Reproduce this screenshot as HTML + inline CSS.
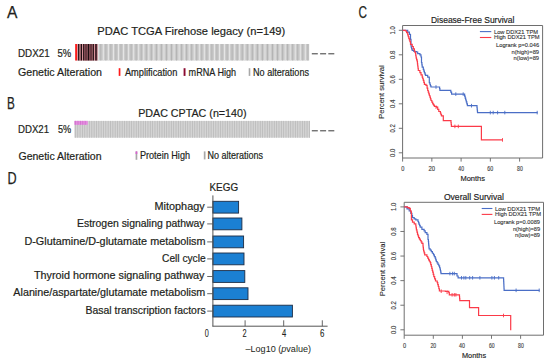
<!DOCTYPE html>
<html><head><meta charset="utf-8"><style>
html,body{margin:0;padding:0;background:#fff;overflow:hidden;}
svg{display:block;font-family:"Liberation Sans", sans-serif;}
</style></head><body>
<svg width="550" height="362" viewBox="0 0 550 362">
<rect width="550" height="362" fill="#fff"/>
<rect x="75.30" y="44.00" width="233.90" height="16.50" fill="#cacaca" />
<rect x="97.80" y="44.00" width="1.00" height="16.50" fill="#e6e6e6" />
<rect x="100.30" y="44.00" width="1.00" height="16.50" fill="#b4b4b4" />
<rect x="102.85" y="44.00" width="1.00" height="16.50" fill="#e6e6e6" />
<rect x="105.35" y="44.00" width="1.00" height="16.50" fill="#b4b4b4" />
<rect x="107.90" y="44.00" width="1.00" height="16.50" fill="#e6e6e6" />
<rect x="110.40" y="44.00" width="1.00" height="16.50" fill="#b4b4b4" />
<rect x="112.95" y="44.00" width="1.00" height="16.50" fill="#e6e6e6" />
<rect x="115.45" y="44.00" width="1.00" height="16.50" fill="#b4b4b4" />
<rect x="118.00" y="44.00" width="1.00" height="16.50" fill="#e6e6e6" />
<rect x="120.50" y="44.00" width="1.00" height="16.50" fill="#b4b4b4" />
<rect x="123.05" y="44.00" width="1.00" height="16.50" fill="#e6e6e6" />
<rect x="125.55" y="44.00" width="1.00" height="16.50" fill="#b4b4b4" />
<rect x="128.10" y="44.00" width="1.00" height="16.50" fill="#e6e6e6" />
<rect x="130.60" y="44.00" width="1.00" height="16.50" fill="#b4b4b4" />
<rect x="133.15" y="44.00" width="1.00" height="16.50" fill="#e6e6e6" />
<rect x="135.65" y="44.00" width="1.00" height="16.50" fill="#b4b4b4" />
<rect x="138.20" y="44.00" width="1.00" height="16.50" fill="#e6e6e6" />
<rect x="140.70" y="44.00" width="1.00" height="16.50" fill="#b4b4b4" />
<rect x="143.25" y="44.00" width="1.00" height="16.50" fill="#e6e6e6" />
<rect x="145.75" y="44.00" width="1.00" height="16.50" fill="#b4b4b4" />
<rect x="148.30" y="44.00" width="1.00" height="16.50" fill="#e6e6e6" />
<rect x="150.80" y="44.00" width="1.00" height="16.50" fill="#b4b4b4" />
<rect x="153.35" y="44.00" width="1.00" height="16.50" fill="#e6e6e6" />
<rect x="155.85" y="44.00" width="1.00" height="16.50" fill="#b4b4b4" />
<rect x="158.40" y="44.00" width="1.00" height="16.50" fill="#e6e6e6" />
<rect x="160.90" y="44.00" width="1.00" height="16.50" fill="#b4b4b4" />
<rect x="163.45" y="44.00" width="1.00" height="16.50" fill="#e6e6e6" />
<rect x="165.95" y="44.00" width="1.00" height="16.50" fill="#b4b4b4" />
<rect x="168.50" y="44.00" width="1.00" height="16.50" fill="#e6e6e6" />
<rect x="171.00" y="44.00" width="1.00" height="16.50" fill="#b4b4b4" />
<rect x="173.55" y="44.00" width="1.00" height="16.50" fill="#e6e6e6" />
<rect x="176.05" y="44.00" width="1.00" height="16.50" fill="#b4b4b4" />
<rect x="178.60" y="44.00" width="1.00" height="16.50" fill="#e6e6e6" />
<rect x="181.10" y="44.00" width="1.00" height="16.50" fill="#b4b4b4" />
<rect x="183.65" y="44.00" width="1.00" height="16.50" fill="#e6e6e6" />
<rect x="186.15" y="44.00" width="1.00" height="16.50" fill="#b4b4b4" />
<rect x="188.70" y="44.00" width="1.00" height="16.50" fill="#e6e6e6" />
<rect x="191.20" y="44.00" width="1.00" height="16.50" fill="#b4b4b4" />
<rect x="193.75" y="44.00" width="1.00" height="16.50" fill="#e6e6e6" />
<rect x="196.25" y="44.00" width="1.00" height="16.50" fill="#b4b4b4" />
<rect x="198.80" y="44.00" width="1.00" height="16.50" fill="#e6e6e6" />
<rect x="201.30" y="44.00" width="1.00" height="16.50" fill="#b4b4b4" />
<rect x="203.85" y="44.00" width="1.00" height="16.50" fill="#e6e6e6" />
<rect x="206.35" y="44.00" width="1.00" height="16.50" fill="#b4b4b4" />
<rect x="208.90" y="44.00" width="1.00" height="16.50" fill="#e6e6e6" />
<rect x="211.40" y="44.00" width="1.00" height="16.50" fill="#b4b4b4" />
<rect x="213.95" y="44.00" width="1.00" height="16.50" fill="#e6e6e6" />
<rect x="216.45" y="44.00" width="1.00" height="16.50" fill="#b4b4b4" />
<rect x="219.00" y="44.00" width="1.00" height="16.50" fill="#e6e6e6" />
<rect x="221.50" y="44.00" width="1.00" height="16.50" fill="#b4b4b4" />
<rect x="224.05" y="44.00" width="1.00" height="16.50" fill="#e6e6e6" />
<rect x="226.55" y="44.00" width="1.00" height="16.50" fill="#b4b4b4" />
<rect x="229.10" y="44.00" width="1.00" height="16.50" fill="#e6e6e6" />
<rect x="231.60" y="44.00" width="1.00" height="16.50" fill="#b4b4b4" />
<rect x="234.15" y="44.00" width="1.00" height="16.50" fill="#e6e6e6" />
<rect x="236.65" y="44.00" width="1.00" height="16.50" fill="#b4b4b4" />
<rect x="239.20" y="44.00" width="1.00" height="16.50" fill="#e6e6e6" />
<rect x="241.70" y="44.00" width="1.00" height="16.50" fill="#b4b4b4" />
<rect x="244.25" y="44.00" width="1.00" height="16.50" fill="#e6e6e6" />
<rect x="246.75" y="44.00" width="1.00" height="16.50" fill="#b4b4b4" />
<rect x="249.30" y="44.00" width="1.00" height="16.50" fill="#e6e6e6" />
<rect x="251.80" y="44.00" width="1.00" height="16.50" fill="#b4b4b4" />
<rect x="254.35" y="44.00" width="1.00" height="16.50" fill="#e6e6e6" />
<rect x="256.85" y="44.00" width="1.00" height="16.50" fill="#b4b4b4" />
<rect x="259.40" y="44.00" width="1.00" height="16.50" fill="#e6e6e6" />
<rect x="261.90" y="44.00" width="1.00" height="16.50" fill="#b4b4b4" />
<rect x="264.45" y="44.00" width="1.00" height="16.50" fill="#e6e6e6" />
<rect x="266.95" y="44.00" width="1.00" height="16.50" fill="#b4b4b4" />
<rect x="269.50" y="44.00" width="1.00" height="16.50" fill="#e6e6e6" />
<rect x="272.00" y="44.00" width="1.00" height="16.50" fill="#b4b4b4" />
<rect x="274.55" y="44.00" width="1.00" height="16.50" fill="#e6e6e6" />
<rect x="277.05" y="44.00" width="1.00" height="16.50" fill="#b4b4b4" />
<rect x="279.60" y="44.00" width="1.00" height="16.50" fill="#e6e6e6" />
<rect x="282.10" y="44.00" width="1.00" height="16.50" fill="#b4b4b4" />
<rect x="284.65" y="44.00" width="1.00" height="16.50" fill="#e6e6e6" />
<rect x="287.15" y="44.00" width="1.00" height="16.50" fill="#b4b4b4" />
<rect x="289.70" y="44.00" width="1.00" height="16.50" fill="#e6e6e6" />
<rect x="292.20" y="44.00" width="1.00" height="16.50" fill="#b4b4b4" />
<rect x="294.75" y="44.00" width="1.00" height="16.50" fill="#e6e6e6" />
<rect x="297.25" y="44.00" width="1.00" height="16.50" fill="#b4b4b4" />
<rect x="299.80" y="44.00" width="1.00" height="16.50" fill="#e6e6e6" />
<rect x="302.30" y="44.00" width="1.00" height="16.50" fill="#b4b4b4" />
<rect x="304.85" y="44.00" width="1.00" height="16.50" fill="#e6e6e6" />
<rect x="307.35" y="44.00" width="1.00" height="16.50" fill="#b4b4b4" />
<rect x="75.20" y="44.00" width="1.90" height="16.50" fill="#ff1a1a" />
<rect x="77.10" y="44.00" width="20.60" height="16.50" fill="#d9939b" />
<rect x="78.10" y="44.00" width="1.00" height="16.50" fill="#1c0d10" />
<rect x="79.30" y="44.00" width="1.50" height="16.50" fill="#8a5a62" />
<rect x="81.00" y="44.00" width="1.00" height="16.50" fill="#1c0d10" />
<rect x="83.00" y="44.00" width="0.90" height="16.50" fill="#1c0d10" />
<rect x="84.20" y="44.00" width="3.50" height="16.50" fill="#6a3a42" />
<rect x="87.90" y="44.00" width="1.10" height="16.50" fill="#1c0d10" />
<rect x="89.20" y="44.00" width="3.40" height="16.50" fill="#6a3a42" />
<rect x="92.90" y="44.00" width="1.00" height="16.50" fill="#1c0d10" />
<rect x="95.00" y="44.00" width="2.10" height="16.50" fill="#4e2a32" />
<rect x="311.80" y="53.10" width="6.00" height="1.30" fill="#666666" />
<rect x="320.10" y="53.10" width="6.00" height="1.30" fill="#666666" />
<rect x="328.30" y="53.10" width="6.00" height="1.30" fill="#666666" />
<rect x="118.70" y="68.20" width="1.70" height="7.70" fill="#ff1a1a" />
<rect x="183.60" y="68.20" width="1.90" height="7.70" fill="#8b0a30" />
<rect x="248.70" y="68.20" width="1.60" height="7.70" fill="#a8a8a8" />
<rect x="74.30" y="120.90" width="235.70" height="16.80" fill="#d4d4d4" />
<rect x="75.00" y="120.90" width="0.80" height="16.80" fill="#b9b9b9" />
<rect x="77.34" y="120.90" width="0.80" height="16.80" fill="#b9b9b9" />
<rect x="79.68" y="120.90" width="0.80" height="16.80" fill="#b9b9b9" />
<rect x="82.02" y="120.90" width="0.80" height="16.80" fill="#b9b9b9" />
<rect x="84.36" y="120.90" width="0.80" height="16.80" fill="#b9b9b9" />
<rect x="86.70" y="120.90" width="0.80" height="16.80" fill="#b9b9b9" />
<rect x="89.04" y="120.90" width="0.80" height="16.80" fill="#b9b9b9" />
<rect x="91.38" y="120.90" width="0.80" height="16.80" fill="#b9b9b9" />
<rect x="93.72" y="120.90" width="0.80" height="16.80" fill="#b9b9b9" />
<rect x="96.06" y="120.90" width="0.80" height="16.80" fill="#b9b9b9" />
<rect x="98.40" y="120.90" width="0.80" height="16.80" fill="#b9b9b9" />
<rect x="100.74" y="120.90" width="0.80" height="16.80" fill="#b9b9b9" />
<rect x="103.08" y="120.90" width="0.80" height="16.80" fill="#b9b9b9" />
<rect x="105.42" y="120.90" width="0.80" height="16.80" fill="#b9b9b9" />
<rect x="107.76" y="120.90" width="0.80" height="16.80" fill="#b9b9b9" />
<rect x="110.10" y="120.90" width="0.80" height="16.80" fill="#b9b9b9" />
<rect x="112.44" y="120.90" width="0.80" height="16.80" fill="#b9b9b9" />
<rect x="114.78" y="120.90" width="0.80" height="16.80" fill="#b9b9b9" />
<rect x="117.12" y="120.90" width="0.80" height="16.80" fill="#b9b9b9" />
<rect x="119.46" y="120.90" width="0.80" height="16.80" fill="#b9b9b9" />
<rect x="121.80" y="120.90" width="0.80" height="16.80" fill="#b9b9b9" />
<rect x="124.14" y="120.90" width="0.80" height="16.80" fill="#b9b9b9" />
<rect x="126.48" y="120.90" width="0.80" height="16.80" fill="#b9b9b9" />
<rect x="128.82" y="120.90" width="0.80" height="16.80" fill="#b9b9b9" />
<rect x="131.16" y="120.90" width="0.80" height="16.80" fill="#b9b9b9" />
<rect x="133.50" y="120.90" width="0.80" height="16.80" fill="#b9b9b9" />
<rect x="135.84" y="120.90" width="0.80" height="16.80" fill="#b9b9b9" />
<rect x="138.18" y="120.90" width="0.80" height="16.80" fill="#b9b9b9" />
<rect x="140.52" y="120.90" width="0.80" height="16.80" fill="#b9b9b9" />
<rect x="142.86" y="120.90" width="0.80" height="16.80" fill="#b9b9b9" />
<rect x="145.20" y="120.90" width="0.80" height="16.80" fill="#b9b9b9" />
<rect x="147.54" y="120.90" width="0.80" height="16.80" fill="#b9b9b9" />
<rect x="149.88" y="120.90" width="0.80" height="16.80" fill="#b9b9b9" />
<rect x="152.22" y="120.90" width="0.80" height="16.80" fill="#b9b9b9" />
<rect x="154.56" y="120.90" width="0.80" height="16.80" fill="#b9b9b9" />
<rect x="156.90" y="120.90" width="0.80" height="16.80" fill="#b9b9b9" />
<rect x="159.24" y="120.90" width="0.80" height="16.80" fill="#b9b9b9" />
<rect x="161.58" y="120.90" width="0.80" height="16.80" fill="#b9b9b9" />
<rect x="163.92" y="120.90" width="0.80" height="16.80" fill="#b9b9b9" />
<rect x="166.26" y="120.90" width="0.80" height="16.80" fill="#b9b9b9" />
<rect x="168.60" y="120.90" width="0.80" height="16.80" fill="#b9b9b9" />
<rect x="170.94" y="120.90" width="0.80" height="16.80" fill="#b9b9b9" />
<rect x="173.28" y="120.90" width="0.80" height="16.80" fill="#b9b9b9" />
<rect x="175.62" y="120.90" width="0.80" height="16.80" fill="#b9b9b9" />
<rect x="177.96" y="120.90" width="0.80" height="16.80" fill="#b9b9b9" />
<rect x="180.30" y="120.90" width="0.80" height="16.80" fill="#b9b9b9" />
<rect x="182.64" y="120.90" width="0.80" height="16.80" fill="#b9b9b9" />
<rect x="184.98" y="120.90" width="0.80" height="16.80" fill="#b9b9b9" />
<rect x="187.32" y="120.90" width="0.80" height="16.80" fill="#b9b9b9" />
<rect x="189.66" y="120.90" width="0.80" height="16.80" fill="#b9b9b9" />
<rect x="192.00" y="120.90" width="0.80" height="16.80" fill="#b9b9b9" />
<rect x="194.34" y="120.90" width="0.80" height="16.80" fill="#b9b9b9" />
<rect x="196.68" y="120.90" width="0.80" height="16.80" fill="#b9b9b9" />
<rect x="199.02" y="120.90" width="0.80" height="16.80" fill="#b9b9b9" />
<rect x="201.36" y="120.90" width="0.80" height="16.80" fill="#b9b9b9" />
<rect x="203.70" y="120.90" width="0.80" height="16.80" fill="#b9b9b9" />
<rect x="206.04" y="120.90" width="0.80" height="16.80" fill="#b9b9b9" />
<rect x="208.38" y="120.90" width="0.80" height="16.80" fill="#b9b9b9" />
<rect x="210.72" y="120.90" width="0.80" height="16.80" fill="#b9b9b9" />
<rect x="213.06" y="120.90" width="0.80" height="16.80" fill="#b9b9b9" />
<rect x="215.40" y="120.90" width="0.80" height="16.80" fill="#b9b9b9" />
<rect x="217.74" y="120.90" width="0.80" height="16.80" fill="#b9b9b9" />
<rect x="220.08" y="120.90" width="0.80" height="16.80" fill="#b9b9b9" />
<rect x="222.42" y="120.90" width="0.80" height="16.80" fill="#b9b9b9" />
<rect x="224.76" y="120.90" width="0.80" height="16.80" fill="#b9b9b9" />
<rect x="227.10" y="120.90" width="0.80" height="16.80" fill="#b9b9b9" />
<rect x="229.44" y="120.90" width="0.80" height="16.80" fill="#b9b9b9" />
<rect x="231.78" y="120.90" width="0.80" height="16.80" fill="#b9b9b9" />
<rect x="234.12" y="120.90" width="0.80" height="16.80" fill="#b9b9b9" />
<rect x="236.46" y="120.90" width="0.80" height="16.80" fill="#b9b9b9" />
<rect x="238.80" y="120.90" width="0.80" height="16.80" fill="#b9b9b9" />
<rect x="241.14" y="120.90" width="0.80" height="16.80" fill="#b9b9b9" />
<rect x="243.48" y="120.90" width="0.80" height="16.80" fill="#b9b9b9" />
<rect x="245.82" y="120.90" width="0.80" height="16.80" fill="#b9b9b9" />
<rect x="248.16" y="120.90" width="0.80" height="16.80" fill="#b9b9b9" />
<rect x="250.50" y="120.90" width="0.80" height="16.80" fill="#b9b9b9" />
<rect x="252.84" y="120.90" width="0.80" height="16.80" fill="#b9b9b9" />
<rect x="255.18" y="120.90" width="0.80" height="16.80" fill="#b9b9b9" />
<rect x="257.52" y="120.90" width="0.80" height="16.80" fill="#b9b9b9" />
<rect x="259.86" y="120.90" width="0.80" height="16.80" fill="#b9b9b9" />
<rect x="262.20" y="120.90" width="0.80" height="16.80" fill="#b9b9b9" />
<rect x="264.54" y="120.90" width="0.80" height="16.80" fill="#b9b9b9" />
<rect x="266.88" y="120.90" width="0.80" height="16.80" fill="#b9b9b9" />
<rect x="269.22" y="120.90" width="0.80" height="16.80" fill="#b9b9b9" />
<rect x="271.56" y="120.90" width="0.80" height="16.80" fill="#b9b9b9" />
<rect x="273.90" y="120.90" width="0.80" height="16.80" fill="#b9b9b9" />
<rect x="276.24" y="120.90" width="0.80" height="16.80" fill="#b9b9b9" />
<rect x="278.58" y="120.90" width="0.80" height="16.80" fill="#b9b9b9" />
<rect x="280.92" y="120.90" width="0.80" height="16.80" fill="#b9b9b9" />
<rect x="283.26" y="120.90" width="0.80" height="16.80" fill="#b9b9b9" />
<rect x="285.60" y="120.90" width="0.80" height="16.80" fill="#b9b9b9" />
<rect x="287.94" y="120.90" width="0.80" height="16.80" fill="#b9b9b9" />
<rect x="290.28" y="120.90" width="0.80" height="16.80" fill="#b9b9b9" />
<rect x="292.62" y="120.90" width="0.80" height="16.80" fill="#b9b9b9" />
<rect x="294.96" y="120.90" width="0.80" height="16.80" fill="#b9b9b9" />
<rect x="297.30" y="120.90" width="0.80" height="16.80" fill="#b9b9b9" />
<rect x="299.64" y="120.90" width="0.80" height="16.80" fill="#b9b9b9" />
<rect x="301.98" y="120.90" width="0.80" height="16.80" fill="#b9b9b9" />
<rect x="304.32" y="120.90" width="0.80" height="16.80" fill="#b9b9b9" />
<rect x="306.66" y="120.90" width="0.80" height="16.80" fill="#b9b9b9" />
<rect x="309.00" y="120.90" width="0.80" height="16.80" fill="#b9b9b9" />
<rect x="74.30" y="120.90" width="13.50" height="3.90" fill="#e58ee0" />
<rect x="75.20" y="120.90" width="0.80" height="3.90" fill="#d070cc" />
<rect x="77.60" y="120.90" width="0.80" height="3.90" fill="#d070cc" />
<rect x="80.00" y="120.90" width="0.80" height="3.90" fill="#d070cc" />
<rect x="82.40" y="120.90" width="0.80" height="3.90" fill="#d070cc" />
<rect x="84.80" y="120.90" width="0.80" height="3.90" fill="#d070cc" />
<rect x="311.80" y="130.10" width="6.00" height="1.30" fill="#666666" />
<rect x="320.10" y="130.10" width="6.00" height="1.30" fill="#666666" />
<rect x="328.30" y="130.10" width="6.00" height="1.30" fill="#666666" />
<rect x="135.60" y="151.40" width="1.70" height="8.40" fill="#a8a8a8" />
<rect x="135.60" y="151.40" width="1.70" height="2.60" fill="#d860d0" />
<rect x="203.80" y="151.40" width="1.70" height="8.00" fill="#a8a8a8" />
<rect x="212.9" y="201.30" width="25.70" height="11.8" fill="#1b80d3" stroke="#1d2c44" stroke-width="0.9"/>
<line x1="207.20" y1="207.20" x2="212.90" y2="207.20" stroke="#555" stroke-width="0.9" />
<rect x="212.9" y="218.00" width="29.00" height="11.8" fill="#1b80d3" stroke="#1d2c44" stroke-width="0.9"/>
<line x1="207.20" y1="223.90" x2="212.90" y2="223.90" stroke="#555" stroke-width="0.9" />
<rect x="212.9" y="236.00" width="30.70" height="11.8" fill="#1b80d3" stroke="#1d2c44" stroke-width="0.9"/>
<line x1="207.20" y1="241.90" x2="212.90" y2="241.90" stroke="#555" stroke-width="0.9" />
<rect x="212.9" y="253.00" width="31.10" height="11.8" fill="#1b80d3" stroke="#1d2c44" stroke-width="0.9"/>
<line x1="207.20" y1="258.90" x2="212.90" y2="258.90" stroke="#555" stroke-width="0.9" />
<rect x="212.9" y="270.60" width="31.90" height="11.8" fill="#1b80d3" stroke="#1d2c44" stroke-width="0.9"/>
<line x1="207.20" y1="276.50" x2="212.90" y2="276.50" stroke="#555" stroke-width="0.9" />
<rect x="212.9" y="287.80" width="35.10" height="11.8" fill="#1b80d3" stroke="#1d2c44" stroke-width="0.9"/>
<line x1="207.20" y1="293.70" x2="212.90" y2="293.70" stroke="#555" stroke-width="0.9" />
<rect x="212.9" y="305.20" width="79.50" height="11.8" fill="#1b80d3" stroke="#1d2c44" stroke-width="0.9"/>
<line x1="207.20" y1="311.10" x2="212.90" y2="311.10" stroke="#555" stroke-width="0.9" />
<line x1="212.90" y1="195.40" x2="212.90" y2="326.40" stroke="#555" stroke-width="1.0" />
<line x1="212.40" y1="326.20" x2="327.60" y2="326.20" stroke="#555" stroke-width="1.0" />
<line x1="245.10" y1="320.30" x2="245.10" y2="326.20" stroke="#555" stroke-width="0.9" />
<line x1="283.70" y1="320.30" x2="283.70" y2="326.20" stroke="#555" stroke-width="0.9" />
<line x1="322.30" y1="320.30" x2="322.30" y2="326.20" stroke="#555" stroke-width="0.9" />
<path d="M402.60,158.00 V25.50 H542.60 V158.00 Z" fill="none" stroke="#6e6e6e" stroke-width="1"/>
<line x1="402.60" y1="158.00" x2="402.60" y2="161.60" stroke="#666" stroke-width="0.9" />
<line x1="431.85" y1="158.00" x2="431.85" y2="161.60" stroke="#666" stroke-width="0.9" />
<line x1="461.10" y1="158.00" x2="461.10" y2="161.60" stroke="#666" stroke-width="0.9" />
<line x1="490.35" y1="158.00" x2="490.35" y2="161.60" stroke="#666" stroke-width="0.9" />
<line x1="519.60" y1="158.00" x2="519.60" y2="161.60" stroke="#666" stroke-width="0.9" />
<line x1="398.80" y1="152.80" x2="402.60" y2="152.80" stroke="#666" stroke-width="0.9" />
<line x1="398.80" y1="128.30" x2="402.60" y2="128.30" stroke="#666" stroke-width="0.9" />
<line x1="398.80" y1="103.80" x2="402.60" y2="103.80" stroke="#666" stroke-width="0.9" />
<line x1="398.80" y1="79.30" x2="402.60" y2="79.30" stroke="#666" stroke-width="0.9" />
<line x1="398.80" y1="54.80" x2="402.60" y2="54.80" stroke="#666" stroke-width="0.9" />
<line x1="398.80" y1="30.30" x2="402.60" y2="30.30" stroke="#666" stroke-width="0.9" />
<line x1="479.90" y1="31.60" x2="491.30" y2="31.60" stroke="#4a6ec6" stroke-width="1.1" />
<line x1="479.90" y1="37.50" x2="491.30" y2="37.50" stroke="#fb3a48" stroke-width="1.1" />
<path d="M402.80,30.30 H406.60 H407.70 V32.20 H409.40 V34.40 H410.50 V36.00 V39.40 H411.00 V41.60 V46.00 H411.30 V47.40 H411.60 V48.80 H412.20 V50.40 H413.80 V51.50 H416.60 V52.00 H417.70 V53.70 H419.90 V54.80 H421.00 V57.00 H421.50 V59.30 V62.70 H421.90 V64.95 H422.20 V67.20 H423.30 V69.40 H423.85 V71.05 H424.40 V72.70 H424.95 V74.05 H425.50 V75.40 H427.70 V77.10 H429.30 V78.20 V82.60 H429.85 V84.25 H430.40 V85.90 H431.00 V87.00 H439.30 H439.60 V88.65 H439.90 V90.30 H450.00 H450.80 V92.20 H451.60 V94.10 H464.10 H464.63 V96.07 H465.17 V98.03 H465.70 V100.00 H466.27 V101.90 H466.83 V103.80 H467.40 V105.70 H476.80 H476.98 V107.42 H477.15 V109.15 H477.32 V110.88 H477.50 V112.60 H537.60" fill="none" stroke="#4a6ec6" stroke-width="1.2" stroke-linejoin="miter"/>
<path d="M402.80,30.30 H405.50 V31.00 H406.60 V32.70 H407.70 V34.90 H408.25 V36.60 H408.80 V38.30 H409.35 V39.95 H409.90 V41.60 H410.50 V44.30 H412.20 V46.50 H413.30 V48.80 H414.40 V51.00 H414.95 V52.35 H415.50 V53.70 H415.75 V55.35 H416.00 V57.00 H416.30 V58.40 H416.60 V59.80 H417.20 V61.60 H417.45 V63.80 H417.70 V66.00 H418.00 V68.25 H418.30 V70.50 H419.90 V72.70 H421.00 V74.90 H422.20 V77.10 H422.75 V78.75 H423.30 V80.40 H423.85 V82.35 H424.40 V84.30 H426.00 V85.40 H427.10 V88.10 H427.70 V90.50 H428.25 V92.15 H428.80 V93.80 H429.35 V95.50 H429.90 V97.20 H430.45 V98.85 H431.00 V100.50 H431.85 V102.15 H432.70 V103.80 H433.55 V105.15 H434.40 V106.50 H436.60 V107.10 H437.70 V109.30 H438.80 V111.50 H440.40 V113.20 H440.95 V114.55 H441.50 V115.90 H443.30 V117.60 V120.70 H450.80 H451.00 V122.60 H451.20 V124.50 H451.40 V126.40 H481.40 V139.90 H502.50" fill="none" stroke="#fb3a48" stroke-width="1.2" stroke-linejoin="miter"/>
<line x1="436.00" y1="85.20" x2="436.00" y2="88.80" stroke="#4a6ec6" stroke-width="0.9" />
<line x1="455.80" y1="92.30" x2="455.80" y2="95.90" stroke="#4a6ec6" stroke-width="0.9" />
<line x1="463.20" y1="92.30" x2="463.20" y2="95.90" stroke="#4a6ec6" stroke-width="0.9" />
<line x1="471.50" y1="103.90" x2="471.50" y2="107.50" stroke="#4a6ec6" stroke-width="0.9" />
<line x1="490.30" y1="110.80" x2="490.30" y2="114.40" stroke="#4a6ec6" stroke-width="0.9" />
<line x1="493.20" y1="110.80" x2="493.20" y2="114.40" stroke="#4a6ec6" stroke-width="0.9" />
<line x1="497.60" y1="110.80" x2="497.60" y2="114.40" stroke="#4a6ec6" stroke-width="0.9" />
<line x1="504.80" y1="110.80" x2="504.80" y2="114.40" stroke="#4a6ec6" stroke-width="0.9" />
<line x1="537.20" y1="110.80" x2="537.20" y2="114.40" stroke="#4a6ec6" stroke-width="0.9" />
<line x1="436.00" y1="105.30" x2="436.00" y2="108.90" stroke="#fb3a48" stroke-width="0.9" />
<line x1="454.90" y1="124.60" x2="454.90" y2="128.20" stroke="#fb3a48" stroke-width="0.9" />
<line x1="458.30" y1="124.60" x2="458.30" y2="128.20" stroke="#fb3a48" stroke-width="0.9" />
<line x1="502.50" y1="138.10" x2="502.50" y2="141.70" stroke="#fb3a48" stroke-width="0.9" />
<path d="M404.20,335.20 V202.30 H543.50 V335.20 Z" fill="none" stroke="#6e6e6e" stroke-width="1"/>
<line x1="404.20" y1="335.20" x2="404.20" y2="338.80" stroke="#666" stroke-width="0.9" />
<line x1="433.30" y1="335.20" x2="433.30" y2="338.80" stroke="#666" stroke-width="0.9" />
<line x1="462.40" y1="335.20" x2="462.40" y2="338.80" stroke="#666" stroke-width="0.9" />
<line x1="491.50" y1="335.20" x2="491.50" y2="338.80" stroke="#666" stroke-width="0.9" />
<line x1="520.60" y1="335.20" x2="520.60" y2="338.80" stroke="#666" stroke-width="0.9" />
<line x1="400.40" y1="329.80" x2="404.20" y2="329.80" stroke="#666" stroke-width="0.9" />
<line x1="400.40" y1="305.22" x2="404.20" y2="305.22" stroke="#666" stroke-width="0.9" />
<line x1="400.40" y1="280.64" x2="404.20" y2="280.64" stroke="#666" stroke-width="0.9" />
<line x1="400.40" y1="256.06" x2="404.20" y2="256.06" stroke="#666" stroke-width="0.9" />
<line x1="400.40" y1="231.48" x2="404.20" y2="231.48" stroke="#666" stroke-width="0.9" />
<line x1="400.40" y1="206.90" x2="404.20" y2="206.90" stroke="#666" stroke-width="0.9" />
<line x1="481.70" y1="208.50" x2="492.40" y2="208.50" stroke="#4a6ec6" stroke-width="1.1" />
<line x1="481.70" y1="214.40" x2="492.40" y2="214.40" stroke="#fb3a48" stroke-width="1.1" />
<path d="M404.20,206.90 H407.00 V208.80 H409.20 V211.00 H410.80 V213.30 H411.90 V215.50 H412.50 V217.70 H414.20 V218.80 H415.80 V219.90 H418.00 V221.50 H418.55 V222.90 H419.10 V224.30 H419.65 V225.70 H420.20 V227.10 H421.90 V229.30 H424.10 V230.90 H425.20 V232.60 H426.90 V234.30 H428.00 V237.00 V239.50 H428.40 V241.65 H428.60 V243.80 H428.77 V245.47 H428.93 V247.13 H429.10 V248.80 H430.20 V250.20 H431.30 V251.60 H432.40 V253.25 H433.50 V254.90 H434.35 V256.55 H435.20 V258.20 H435.75 V259.85 H436.30 V261.50 H437.15 V262.90 H438.00 V264.30 H438.80 V265.90 H439.60 V267.50 H440.00 V269.00 H440.40 V270.50 H440.70 V272.05 H441.00 V273.60 H455.90 H457.00 V276.00 H458.10 V277.80 H503.50 H503.59 V279.59 H503.67 V281.37 H503.76 V283.16 H503.84 V284.94 H503.93 V286.73 H504.01 V288.51 H504.10 V290.30 H539.60" fill="none" stroke="#4a6ec6" stroke-width="1.2" stroke-linejoin="miter"/>
<path d="M404.20,206.90 H407.50 V207.70 H409.20 V208.30 H410.30 V210.50 H410.85 V211.90 H411.40 V213.30 V219.90 H412.50 V222.10 H414.20 V223.80 H415.80 V226.00 H416.10 V227.90 H416.40 V229.80 H416.95 V232.05 H417.50 V234.30 H418.05 V235.95 H418.60 V237.60 H419.45 V239.05 H420.30 V240.50 H421.10 V241.90 H421.90 V243.30 H423.00 V246.00 H423.20 V247.67 H423.40 V249.33 H423.60 V251.00 H424.15 V252.95 H424.70 V254.90 H426.90 V256.50 H427.75 V258.20 H428.60 V259.90 H429.40 V261.25 H430.20 V262.60 H430.75 V264.55 H431.30 V266.50 H431.77 V268.40 H432.23 V270.30 H432.70 V272.20 H433.25 V274.40 H433.80 V276.60 H434.65 V278.80 H435.50 V281.00 H437.20 V282.70 H437.75 V284.60 H438.30 V286.50 H438.85 V288.75 H439.40 V291.00 H445.40 V291.30 H448.80 V292.60 H449.30 V294.80 H459.30 H459.47 V296.73 H459.63 V298.67 H459.80 V300.60 H469.50 V307.60 H478.60 V315.50 H510.70 V330.20" fill="none" stroke="#fb3a48" stroke-width="1.2" stroke-linejoin="miter"/>
<line x1="449.90" y1="271.80" x2="449.90" y2="275.40" stroke="#4a6ec6" stroke-width="0.9" />
<line x1="452.60" y1="271.80" x2="452.60" y2="275.40" stroke="#4a6ec6" stroke-width="0.9" />
<line x1="454.30" y1="271.80" x2="454.30" y2="275.40" stroke="#4a6ec6" stroke-width="0.9" />
<line x1="461.50" y1="276.00" x2="461.50" y2="279.60" stroke="#4a6ec6" stroke-width="0.9" />
<line x1="463.90" y1="276.00" x2="463.90" y2="279.60" stroke="#4a6ec6" stroke-width="0.9" />
<line x1="465.80" y1="276.00" x2="465.80" y2="279.60" stroke="#4a6ec6" stroke-width="0.9" />
<line x1="469.70" y1="276.00" x2="469.70" y2="279.60" stroke="#4a6ec6" stroke-width="0.9" />
<line x1="472.60" y1="276.00" x2="472.60" y2="279.60" stroke="#4a6ec6" stroke-width="0.9" />
<line x1="479.90" y1="276.00" x2="479.90" y2="279.60" stroke="#4a6ec6" stroke-width="0.9" />
<line x1="491.90" y1="276.00" x2="491.90" y2="279.60" stroke="#4a6ec6" stroke-width="0.9" />
<line x1="494.40" y1="276.00" x2="494.40" y2="279.60" stroke="#4a6ec6" stroke-width="0.9" />
<line x1="498.70" y1="276.00" x2="498.70" y2="279.60" stroke="#4a6ec6" stroke-width="0.9" />
<line x1="516.10" y1="288.50" x2="516.10" y2="292.10" stroke="#4a6ec6" stroke-width="0.9" />
<line x1="539.20" y1="288.50" x2="539.20" y2="292.10" stroke="#4a6ec6" stroke-width="0.9" />
<line x1="441.20" y1="289.40" x2="441.20" y2="293.00" stroke="#fb3a48" stroke-width="0.9" />
<line x1="447.10" y1="290.50" x2="447.10" y2="294.10" stroke="#fb3a48" stroke-width="0.9" />
<line x1="452.10" y1="293.00" x2="452.10" y2="296.60" stroke="#fb3a48" stroke-width="0.9" />
<line x1="454.30" y1="293.00" x2="454.30" y2="296.60" stroke="#fb3a48" stroke-width="0.9" />
<line x1="455.90" y1="293.00" x2="455.90" y2="296.60" stroke="#fb3a48" stroke-width="0.9" />
<line x1="503.50" y1="313.70" x2="503.50" y2="317.30" stroke="#fb3a48" stroke-width="0.9" />
<text x="6.92" y="17.90" font-size="16.42" fill="#231f20" textLength="10.45" lengthAdjust="spacingAndGlyphs" stroke="#231f20" stroke-width="0.25">A</text>
<text x="6.96" y="109.00" font-size="16.28" fill="#231f20" textLength="7.81" lengthAdjust="spacingAndGlyphs" stroke="#231f20" stroke-width="0.25">B</text>
<text x="358.46" y="17.70" font-size="16.42" fill="#231f20" textLength="8.51" lengthAdjust="spacingAndGlyphs" stroke="#231f20" stroke-width="0.25">C</text>
<text x="7.42" y="183.50" font-size="16.13" fill="#231f20" textLength="9.12" lengthAdjust="spacingAndGlyphs" stroke="#231f20" stroke-width="0.25">D</text>
<text x="97.28" y="34.80" font-size="11.72" fill="#231f20" textLength="188.00" lengthAdjust="spacingAndGlyphs" stroke="#231f20" stroke-width="0.2">PDAC TCGA Firehose legacy (n=149)</text>
<text x="18.04" y="57.20" font-size="10.60" fill="#231f20" textLength="31.64" lengthAdjust="spacingAndGlyphs" stroke="#231f20" stroke-width="0.2">DDX21</text>
<text x="57.58" y="57.20" font-size="10.60" fill="#231f20" textLength="13.68" lengthAdjust="spacingAndGlyphs" stroke="#231f20" stroke-width="0.2">5%</text>
<text x="18.00" y="75.90" font-size="10.60" fill="#231f20" textLength="84.00" lengthAdjust="spacingAndGlyphs" stroke="#231f20" stroke-width="0.2">Genetic Alteration</text>
<text x="124.88" y="75.90" font-size="10.60" fill="#231f20" textLength="52.54" lengthAdjust="spacingAndGlyphs" stroke="#231f20" stroke-width="0.2">Amplification</text>
<text x="188.58" y="75.90" font-size="10.60" fill="#231f20" textLength="47.51" lengthAdjust="spacingAndGlyphs" stroke="#231f20" stroke-width="0.2">mRNA High</text>
<text x="253.00" y="75.90" font-size="10.60" fill="#231f20" textLength="56.02" lengthAdjust="spacingAndGlyphs" stroke="#231f20" stroke-width="0.2">No alterations</text>
<text x="138.14" y="117.00" font-size="11.72" fill="#231f20" textLength="108.41" lengthAdjust="spacingAndGlyphs" stroke="#231f20" stroke-width="0.2">PDAC CPTAC (n=140)</text>
<text x="18.04" y="132.90" font-size="10.60" fill="#231f20" textLength="31.04" lengthAdjust="spacingAndGlyphs" stroke="#231f20" stroke-width="0.2">DDX21</text>
<text x="57.92" y="132.90" font-size="10.60" fill="#231f20" textLength="13.21" lengthAdjust="spacingAndGlyphs" stroke="#231f20" stroke-width="0.2">5%</text>
<text x="18.46" y="159.50" font-size="10.60" fill="#231f20" textLength="83.04" lengthAdjust="spacingAndGlyphs" stroke="#231f20" stroke-width="0.2">Genetic Alteration</text>
<text x="139.88" y="159.00" font-size="10.60" fill="#231f20" textLength="50.14" lengthAdjust="spacingAndGlyphs" stroke="#231f20" stroke-width="0.2">Protein High</text>
<text x="207.42" y="159.00" font-size="10.60" fill="#231f20" textLength="55.54" lengthAdjust="spacingAndGlyphs" stroke="#231f20" stroke-width="0.2">No alterations</text>
<text x="209.50" y="191.00" font-size="10.88" fill="#231f20" textLength="28.62" lengthAdjust="spacingAndGlyphs" stroke="#231f20" stroke-width="0.2">KEGG</text>
<text x="154.58" y="209.90" font-size="10.19" fill="#231f20" textLength="50.04" lengthAdjust="spacingAndGlyphs" stroke="#231f20" stroke-width="0.2">Mitophagy</text>
<text x="77.00" y="227.30" font-size="10.19" fill="#231f20" textLength="127.52" lengthAdjust="spacingAndGlyphs" stroke="#231f20" stroke-width="0.2">Estrogen signaling pathway</text>
<text x="24.46" y="244.50" font-size="10.19" fill="#231f20" textLength="181.01" lengthAdjust="spacingAndGlyphs" stroke="#231f20" stroke-width="0.2">D-Glutamine/D-glutamate metabolism</text>
<text x="162.04" y="262.00" font-size="10.19" fill="#231f20" textLength="43.58" lengthAdjust="spacingAndGlyphs" stroke="#231f20" stroke-width="0.2">Cell cycle</text>
<text x="33.92" y="279.00" font-size="10.19" fill="#231f20" textLength="170.54" lengthAdjust="spacingAndGlyphs" stroke="#231f20" stroke-width="0.2">Thyroid hormone signaling pathway</text>
<text x="13.34" y="296.40" font-size="10.19" fill="#231f20" textLength="192.01" lengthAdjust="spacingAndGlyphs" stroke="#231f20" stroke-width="0.2">Alanine/aspartate/glutamate metabolism</text>
<text x="85.58" y="313.80" font-size="10.19" fill="#231f20" textLength="120.02" lengthAdjust="spacingAndGlyphs" stroke="#231f20" stroke-width="0.2">Basal transcription factors</text>
<text x="204.68" y="336.70" font-size="10.17" fill="#231f20" textLength="4.05" lengthAdjust="spacingAndGlyphs" stroke="#231f20" stroke-width="0.1">0</text>
<text x="242.46" y="336.70" font-size="10.17" fill="#231f20" textLength="4.10" lengthAdjust="spacingAndGlyphs" stroke="#231f20" stroke-width="0.1">2</text>
<text x="282.08" y="336.70" font-size="10.17" fill="#231f20" textLength="4.23" lengthAdjust="spacingAndGlyphs" stroke="#231f20" stroke-width="0.1">4</text>
<text x="319.92" y="336.70" font-size="10.17" fill="#231f20" textLength="4.41" lengthAdjust="spacingAndGlyphs" stroke="#231f20" stroke-width="0.1">6</text>
<text x="245.5" y="351.9" font-size="8.6" fill="#231f20" textLength="65.5" lengthAdjust="spacingAndGlyphs">–Log10 (<tspan font-style="italic">p</tspan>value)</text>
<text x="401.13" y="170.80" font-size="6.40" fill="#444" textLength="3.15" lengthAdjust="spacingAndGlyphs" stroke="#444" stroke-width="0.15">0</text>
<text x="428.46" y="170.80" font-size="6.40" fill="#444" textLength="6.56" lengthAdjust="spacingAndGlyphs" stroke="#444" stroke-width="0.15">20</text>
<text x="458.31" y="170.80" font-size="6.40" fill="#444" textLength="5.67" lengthAdjust="spacingAndGlyphs" stroke="#444" stroke-width="0.15">40</text>
<text x="487.36" y="170.80" font-size="6.40" fill="#444" textLength="5.95" lengthAdjust="spacingAndGlyphs" stroke="#444" stroke-width="0.15">60</text>
<text x="517.09" y="170.80" font-size="6.40" fill="#444" textLength="5.67" lengthAdjust="spacingAndGlyphs" stroke="#444" stroke-width="0.15">80</text>
<text transform="translate(395.00,152.80) rotate(-90)" x="0" y="0" font-size="6.54" fill="#3a3a3a" stroke="#3a3a3a" stroke-width="0.12" text-anchor="middle" textLength="8.4" lengthAdjust="spacingAndGlyphs">0.0</text>
<text transform="translate(395.00,128.30) rotate(-90)" x="0" y="0" font-size="6.54" fill="#3a3a3a" stroke="#3a3a3a" stroke-width="0.12" text-anchor="middle" textLength="8.4" lengthAdjust="spacingAndGlyphs">0.2</text>
<text transform="translate(395.00,103.80) rotate(-90)" x="0" y="0" font-size="6.54" fill="#3a3a3a" stroke="#3a3a3a" stroke-width="0.12" text-anchor="middle" textLength="8.4" lengthAdjust="spacingAndGlyphs">0.4</text>
<text transform="translate(395.00,79.30) rotate(-90)" x="0" y="0" font-size="6.54" fill="#3a3a3a" stroke="#3a3a3a" stroke-width="0.12" text-anchor="middle" textLength="8.4" lengthAdjust="spacingAndGlyphs">0.6</text>
<text transform="translate(395.00,54.80) rotate(-90)" x="0" y="0" font-size="6.54" fill="#3a3a3a" stroke="#3a3a3a" stroke-width="0.12" text-anchor="middle" textLength="8.4" lengthAdjust="spacingAndGlyphs">0.8</text>
<text transform="translate(395.00,30.30) rotate(-90)" x="0" y="0" font-size="6.54" fill="#3a3a3a" stroke="#3a3a3a" stroke-width="0.12" text-anchor="middle" textLength="8.4" lengthAdjust="spacingAndGlyphs">1.0</text>
<text x="430.92" y="22.70" font-size="9.16" fill="#222" textLength="83.53" lengthAdjust="spacingAndGlyphs" stroke="#222" stroke-width="0.18">Disease-Free Survival</text>
<text x="494.00" y="34.00" font-size="6.10" fill="#333" textLength="44.00" lengthAdjust="spacingAndGlyphs" stroke="#333" stroke-width="0.12">Low DDX21 TPM</text>
<text x="494.00" y="39.30" font-size="6.10" fill="#333" textLength="45.54" lengthAdjust="spacingAndGlyphs" stroke="#333" stroke-width="0.12">High DDX21 TPM</text>
<text x="496.04" y="47.00" font-size="6.10" fill="#333" textLength="43.07" lengthAdjust="spacingAndGlyphs" stroke="#333" stroke-width="0.12">Logrank p=0.046</text>
<text x="511.46" y="53.80" font-size="6.10" fill="#333" textLength="27.55" lengthAdjust="spacingAndGlyphs" stroke="#333" stroke-width="0.12">n(high)=89</text>
<text x="513.50" y="60.00" font-size="6.10" fill="#333" textLength="25.57" lengthAdjust="spacingAndGlyphs" stroke="#333" stroke-width="0.12">n(low)=89</text>
<text transform="translate(384.00,92.05) rotate(-90)" x="0" y="0" font-size="6.98" fill="#222" stroke="#222" stroke-width="0.08" text-anchor="middle" textLength="53.40" lengthAdjust="spacingAndGlyphs">Percent survival</text>
<text x="460.42" y="180.70" font-size="7.41" fill="#222" textLength="24.56" lengthAdjust="spacingAndGlyphs" stroke="#222" stroke-width="0.15">Months</text>
<text x="403.09" y="347.80" font-size="6.40" fill="#444" textLength="3.15" lengthAdjust="spacingAndGlyphs" stroke="#444" stroke-width="0.15">0</text>
<text x="430.47" y="347.80" font-size="6.40" fill="#444" textLength="5.67" lengthAdjust="spacingAndGlyphs" stroke="#444" stroke-width="0.15">20</text>
<text x="459.05" y="347.80" font-size="6.40" fill="#444" textLength="5.95" lengthAdjust="spacingAndGlyphs" stroke="#444" stroke-width="0.15">40</text>
<text x="489.03" y="347.80" font-size="6.40" fill="#444" textLength="5.67" lengthAdjust="spacingAndGlyphs" stroke="#444" stroke-width="0.15">60</text>
<text x="518.09" y="347.80" font-size="6.40" fill="#444" textLength="5.67" lengthAdjust="spacingAndGlyphs" stroke="#444" stroke-width="0.15">80</text>
<text transform="translate(396.20,329.80) rotate(-90)" x="0" y="0" font-size="6.54" fill="#3a3a3a" stroke="#3a3a3a" stroke-width="0.12" text-anchor="middle" textLength="8.4" lengthAdjust="spacingAndGlyphs">0.0</text>
<text transform="translate(396.20,305.22) rotate(-90)" x="0" y="0" font-size="6.54" fill="#3a3a3a" stroke="#3a3a3a" stroke-width="0.12" text-anchor="middle" textLength="8.4" lengthAdjust="spacingAndGlyphs">0.2</text>
<text transform="translate(396.20,280.64) rotate(-90)" x="0" y="0" font-size="6.54" fill="#3a3a3a" stroke="#3a3a3a" stroke-width="0.12" text-anchor="middle" textLength="8.4" lengthAdjust="spacingAndGlyphs">0.4</text>
<text transform="translate(396.20,256.06) rotate(-90)" x="0" y="0" font-size="6.54" fill="#3a3a3a" stroke="#3a3a3a" stroke-width="0.12" text-anchor="middle" textLength="8.4" lengthAdjust="spacingAndGlyphs">0.6</text>
<text transform="translate(396.20,231.48) rotate(-90)" x="0" y="0" font-size="6.54" fill="#3a3a3a" stroke="#3a3a3a" stroke-width="0.12" text-anchor="middle" textLength="8.4" lengthAdjust="spacingAndGlyphs">0.8</text>
<text transform="translate(396.20,206.90) rotate(-90)" x="0" y="0" font-size="6.54" fill="#3a3a3a" stroke="#3a3a3a" stroke-width="0.12" text-anchor="middle" textLength="8.4" lengthAdjust="spacingAndGlyphs">1.0</text>
<text x="443.92" y="199.80" font-size="9.16" fill="#222" textLength="60.06" lengthAdjust="spacingAndGlyphs" stroke="#222" stroke-width="0.18">Overall Survival</text>
<text x="495.04" y="211.00" font-size="6.10" fill="#333" textLength="45.03" lengthAdjust="spacingAndGlyphs" stroke="#333" stroke-width="0.12">Low DDX21 TPM</text>
<text x="495.04" y="216.30" font-size="6.10" fill="#333" textLength="46.03" lengthAdjust="spacingAndGlyphs" stroke="#333" stroke-width="0.12">High DDX21 TPM</text>
<text x="494.00" y="224.00" font-size="6.10" fill="#333" textLength="46.00" lengthAdjust="spacingAndGlyphs" stroke="#333" stroke-width="0.12">Logrank p=0.0089</text>
<text x="512.96" y="230.80" font-size="6.10" fill="#333" textLength="27.19" lengthAdjust="spacingAndGlyphs" stroke="#333" stroke-width="0.12">n(high)=89</text>
<text x="515.00" y="237.00" font-size="6.10" fill="#333" textLength="25.00" lengthAdjust="spacingAndGlyphs" stroke="#333" stroke-width="0.12">n(low)=89</text>
<text transform="translate(385.20,269.05) rotate(-90)" x="0" y="0" font-size="6.98" fill="#222" stroke="#222" stroke-width="0.08" text-anchor="middle" textLength="54.60" lengthAdjust="spacingAndGlyphs">Percent survival</text>
<text x="461.96" y="357.90" font-size="7.41" fill="#222" textLength="24.12" lengthAdjust="spacingAndGlyphs" stroke="#222" stroke-width="0.15">Months</text>
</svg>
</body></html>
